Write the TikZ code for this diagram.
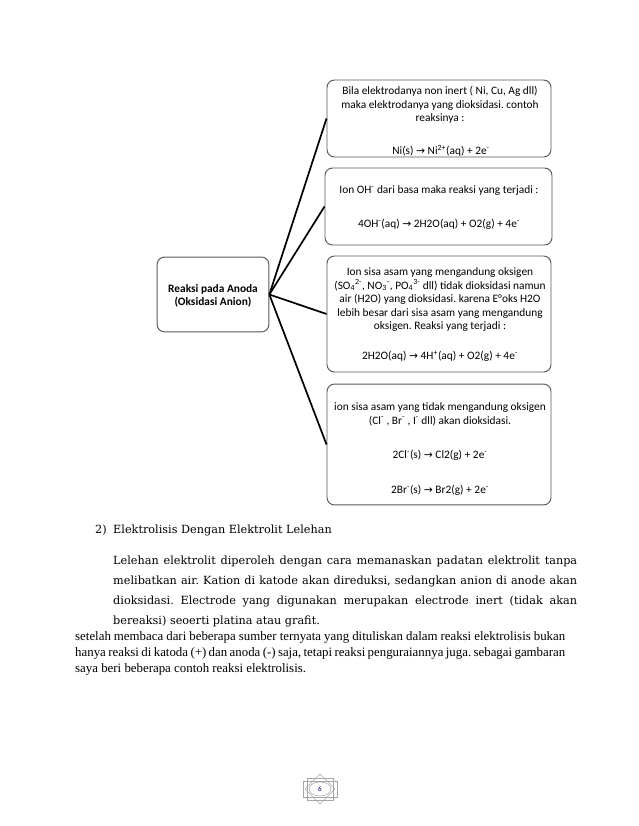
\documentclass[tikz,border=0pt]{standalone}
\usepackage{fontspec}
\setmainfont{Carlito}
\newfontfamily\cambriafont{DejaVu Serif}
\newfontfamily\timesfont{Liberation Serif}
\newfontfamily\symbfont{DejaVu Sans}
\newcommand{\arr}{{\symbfont\fontsize{10}{11}\selectfont →}}
\newcommand{\sps}[1]{\textsuperscript{#1}}
\newcommand{\subsup}[2]{\textsubscript{#1}\textsuperscript{#2}}
\frenchspacing
\begin{document}
\begin{tikzpicture}[x=0.9326pt,y=-0.9326pt,
  box/.style={draw=black!65, line width=0.9pt, rounded corners=7pt, fill=white, inner sep=0pt},
  conn/.style={line width=1.6pt, black},
  bt/.style={anchor=base, inner sep=0pt, font=\fontsize{10.6}{12}\selectfont},
  pt/.style={anchor=base west, inner sep=0pt, font=\cambriafont\fontsize{10.5}{12}\selectfont},
  tt/.style={anchor=base west, inner sep=0pt, font=\timesfont\fontsize{12}{13}\selectfont},
  orn/.style={draw=black!35, line width=0.5pt}]
\useasboundingbox[fill=white] (0,0) rectangle (638,826);

% boxes
\node[box, minimum width=104.2pt, minimum height=69.9pt] (c) at (213,294.5) {};
\node[box, minimum width=208.9pt, minimum height=71.8pt] (b1) at (439,118.5) {};
\node[box, minimum width=211.7pt, minimum height=71.8pt] (b2) at (438.5,206.5) {};
\node[box, minimum width=208.9pt, minimum height=108.2pt] (b3) at (439,314) {};
\node[box, minimum width=208.9pt, minimum height=112.8pt] (b4) at (439,444.5) {};

% connectors
\draw[conn] (c.east) -- (b1.west);
\draw[conn] (c.east) -- (b2.west);
\draw[conn] (c.east) -- (b3.west);
\draw[conn] (c.east) -- (b4.west);

% centre text
\node[bt, font=\bfseries\fontsize{10.6}{12}\selectfont] (ca) at (213,292.5) {Reaksi pada Anoda};
\node[bt, font=\bfseries\fontsize{10.6}{12}\selectfont] (cb) at (213,305.5) {(Oksidasi Anion)};

% box 1
\node[bt] (t1a) at (440,94.5) {Bila elektrodanya non inert ( Ni, Cu, Ag dll)};
\node[bt] (t1b) at (440,108) {maka elektrodanya yang dioksidasi. contoh};
\node[bt] (t1c) at (440,121.5) {reaksinya :};
\node[bt] (t1d) at (441,154.5) {Ni(s) \arr{} Ni\sps{2+}(aq) + 2e\sps{-}};

% box 2
\node[bt] (t2a) at (439,193.5) {Ion OH\sps{-} dari basa maka reaksi yang terjadi :};
\node[bt] (t2b) at (439,227.5) {4OH\sps{-}(aq) \arr{} 2H2O(aq) + O2(g) + 4e\sps{-}};

% box 3
\node[bt] (t3a) at (440,275.5) {Ion sisa asam yang mengandung oksigen};
\node[bt] (t3b) at (440,289) {(SO\subsup{4}{2-}, NO\subsup{3}{-}, PO\subsup{4}{3-} dll) tidak dioksidasi namun};
\node[bt] (t3c) at (440,302.5) {air (H2O) yang dioksidasi. karena E°oks H2O};
\node[bt] (t3d) at (440,316) {lebih besar dari sisa asam yang mengandung};
\node[bt] (t3e) at (440,329.5) {oksigen. Reaksi yang terjadi :};
\node[bt] (t3f) at (440,359.5) {2H2O(aq) \arr{} 4H\sps{+}(aq) + O2(g) + 4e\sps{-}};

% box 4
\node[bt] (t4a) at (440,410.5) {ion sisa asam yang tidak mengandung oksigen};
\node[bt] (t4b) at (440,424) {(Cl\sps{-} , Br\sps{-} , I\sps{-} dll) akan dioksidasi.};
\node[bt] (t4c) at (440,458.5) {2Cl\sps{-}(s) \arr{} Cl2(g) + 2e\sps{-}};
\node[bt] (t4d) at (440,493.5) {2Br\sps{-}(s) \arr{} Br2(g) + 2e\sps{-}};

% heading and paragraph (Cambria-like)
\node[pt] (h0) at (95,533.5) {2)};
\node[pt] (h1) at (113,533.5) {Elektrolisis Dengan Elektrolit Lelehan};
\node[pt] (p1) at (113,564.5) {\makebox[432.7pt][s]{Lelehan elektrolit diperoleh dengan cara memanaskan padatan elektrolit tanpa}};
\node[pt] (p2) at (113,584.5) {\makebox[432.7pt][s]{melibatkan air. Kation di katode akan direduksi, sedangkan anion di anode akan}};
\node[pt] (p3) at (113,604.5) {\makebox[432.7pt][s]{dioksidasi. Electrode yang digunakan merupakan electrode inert (tidak akan}};
\node[pt] (p4) at (113,624.5) {bereaksi) seoerti platina atau grafit.};

% Times paragraph
\node[tt] (q1) at (75,640) {\makebox[457pt][s]{setelah membaca dari beberapa sumber ternyata yang dituliskan dalam reaksi elektrolisis bukan}};
\node[tt] (q2) at (75,656) {\makebox[457pt][s]{hanya reaksi di katoda (+) dan anoda (-) saja, tetapi reaksi penguraiannya juga. sebagai gambaran}};
\node[tt] (q3) at (75,672) {saya beri beberapa contoh reaksi elektrolisis.};

% page number ornament
\draw[orn] (307,778) rectangle (333,800);
\draw[orn] (320,774) -- (335,789) -- (320,804) -- (305,789) -- cycle;
\draw[orn] (303,781) rectangle (337,797);
\draw[orn] (320,789) ellipse (11 and 7);
\node[inner sep=0pt, text=black!55!blue, font=\fontsize{6.5}{7}\selectfont] (pg) at (320,789) {6};
\end{tikzpicture}
\end{document}
